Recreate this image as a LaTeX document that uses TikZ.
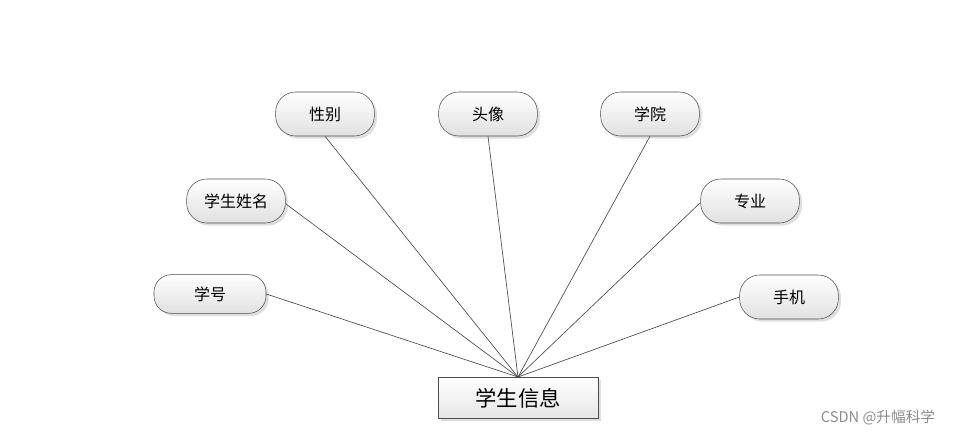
\documentclass[tikz,border=0pt]{standalone}
\usepackage{fontspec}
\setmainfont{Noto Sans CJK SC}
\usetikzlibrary{shadows}
\begin{document}
\begin{tikzpicture}[x=0.75pt,y=-0.75pt,
  attr/.style={draw=black!70,rounded corners=15pt,minimum width=74pt,minimum height=33pt,top color=white,bottom color=black!12,drop shadow={shadow xshift=2pt,shadow yshift=-2pt,fill=black!25},font=\fontsize{12pt}{14pt}\selectfont,inner sep=0pt},
  ent/.style={draw=black!70,minimum width=120pt,minimum height=31pt,top color=white,bottom color=black!10,drop shadow={shadow xshift=2pt,shadow yshift=-2pt,fill=black!25},font=\fontsize{16pt}{18pt}\selectfont},
  link/.style={draw=black!70,line width=0.5pt}]
\useasboundingbox (0,0) rectangle (964,436);
\node[attr] (xb) at (325,114) {性别};
\node[attr] (tx) at (488,114) {头像};
\node[attr] (xy) at (650,114) {学院};
\node[attr] (xm) at (236,201) {学生姓名};
\node[attr] (zy) at (750,201) {专业};
\node[attr,minimum width=84pt,minimum height=29pt,rounded corners=13pt] (xh) at (210,294) {学号};
\node[attr] (sj) at (789,297) {手机};
\node[ent] (xx) at (518,398) {学生信息};
\coordinate (c) at (518,377);
\draw[link] (xb.south) -- (c);
\draw[link] (tx.south) -- (c);
\draw[link] (xy.south) -- (c);
\draw[link] (286,204) -- (c);
\draw[link] (700,203) -- (c);
\draw[link] (xh.east) -- (c);
\draw[link] (sj.west) -- (c);
\node[text=black!45,font=\fontsize{11pt}{12pt}\selectfont] (wm) at (878,418) {CSDN @升幅科学};
\end{tikzpicture}
\end{document}
